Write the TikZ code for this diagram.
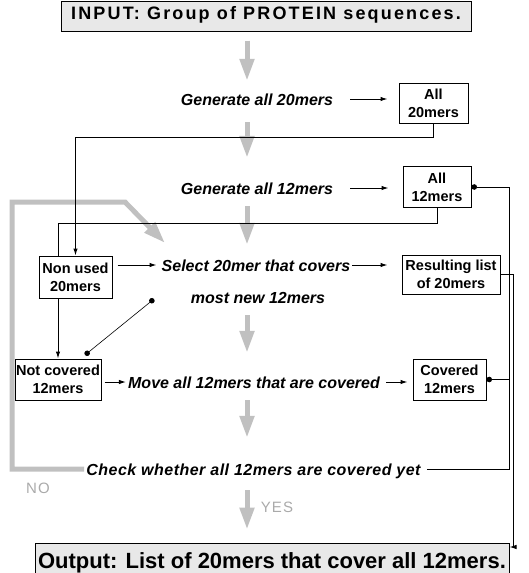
\documentclass[tikz,border=0pt]{standalone}
\usepackage{fontspec}
\setmainfont{Liberation Sans}
\usepackage{tikz}
\usetikzlibrary{arrows.meta}
\definecolor{flowgray}{RGB}{192,192,192}
\definecolor{titlegray}{RGB}{232,232,232}
\definecolor{notegray}{RGB}{170,170,170}

\begin{document}
\begin{tikzpicture}[x=1pt, y=-1pt,
		io/.style={draw, line width=1pt, fill=titlegray, inner sep=0pt, minimum height=30pt},
		store/.style={draw, line width=1pt, fill=white, inner sep=0pt, align=center, font=\fontsize{14.5}{18}\selectfont\bfseries},
		task/.style={inner sep=2pt, text height=12pt, text depth=0pt, font=\fontsize{16}{18}\selectfont\bfseries\itshape},
		link/.style={line width=1pt, -{Latex[length=7pt,width=4.5pt]}},
		feed/.style={line width=1pt, -{Circle[length=5.5pt]}},
		flow/.style={flowgray, line width=5pt, -{Triangle[length=22pt,width=14pt]}},
		answer/.style={notegray, font=\fontsize{15}{18}\selectfont\addfontfeatures{LetterSpace=8}}]
		\useasboundingbox (0,0) rectangle (528,573);
		\node[io, minimum width=410pt, text height=12pt, text depth=6pt, font=\fontsize{18}{20}\selectfont\bfseries\addfontfeatures{LetterSpace=12}] (in) at (266,16) {INPUT: Group of PROTEIN sequences.};
		\node[task] (g20) at (257,99) {Generate all 20mers};
		\node[store, minimum width=69pt, minimum height=40pt] (all20) at (433.5,103) {All\\20mers};
		\node[task] (g12) at (257,188) {Generate all 12mers};
		\node[store, minimum width=68pt, minimum height=41pt] (all12) at (437,187) {All\\12mers};
		\node[store, minimum width=73pt, minimum height=42pt] (nonused) at (75.5,277) {Non used\\20mers};
		\node[task] (sel) at (256,265) {Select 20mer that covers};
		\node[task] (sel2) at (258,297) {most new 12mers};
		\node[store, minimum width=98pt, minimum height=39pt] (result) at (451,274.5) {Resulting list\\of 20mers};
		\node[store, minimum width=86pt, minimum height=41pt] (notcov) at (58,379.5) {Not covered\\12mers};
		\node[task] (move) at (254,382) {Move all 12mers that are covered};
		\node[store, minimum width=73pt, minimum height=41pt] (covered) at (449.5,379.5) {Covered\\12mers};
		\node[task, font=\fontsize{16}{18}\selectfont\bfseries\itshape\addfontfeatures{LetterSpace=3}] (check) at (253.5,469) {Check whether all 12mers are covered yet};
		\node[io, minimum width=474pt, text height=20pt, text depth=0pt, font=\fontsize{22}{24}\selectfont\bfseries] (out) at (272,558) {Output: List of 20mers that cover all 12mers.};
		\node[answer] (no) at (38,488) {NO};
		\node[answer] (yes) at (277,507) {YES};

		\coordinate (axis) at (247,0);
		\coordinate (rail) at (509,0);
		\coordinate (outrail) at (513,0);
		\coordinate (noturn) at (12,202);
		\coordinate (nobend) at (125,202);
		\coordinate (noend) at (165,243);
		\coordinate (pick) at (154,299);
		\coordinate (keep) at (85,355);

		\foreach \a/\b/\s/\e in {in/g20/9/10, g20/g12/15/22, g12/sel/10/12, sel2/move/10/21, move/check/10/23, check/out/13/13}
			\draw[flow, shorten <=\s pt, shorten >=\e pt] (\a.south -| axis) -- (\b.north -| axis);
		\draw[flow] (check.west) -| (noturn) -- (nobend) -- (noend);

		\draw[link, shorten <=15pt, shorten >=11pt] (g20.east) -- (g20.east -| all20.west);
		\draw[link, shorten <=15pt, shorten >=14pt] (g12.east) -- (g12.east -| all12.west);
		\draw[link] (all20.south) -- ++(0,14) -| (nonused.north);
		\draw[line width=1pt] (all12.south) -- ++(0,15) -| (nonused.north -| notcov.north);
		\draw[link] (nonused.south -| notcov.north) -- (notcov.north);
		\draw[link, shorten <=5pt, shorten >=3pt] (nonused.east |- sel) -- (sel.west);
		\draw[link, shorten >=14pt] (sel.east) -- (sel.east -| result.west);
		\draw[link, shorten <=3pt] (notcov.east |- move) -- (move.west);
		\draw[link, shorten <=4pt, shorten >=5pt] (move.east) -- (move.east -| covered.west);
		\draw[link] (result.east) -- (result.east -| outrail) |- ([yshift=11pt]out.east);
		\draw[feed, shorten <=4pt] (check.east) -- (check.east -| rail) -- (all12.east -| rail) -- (all12.east);
		\draw[feed] (covered.east -| rail) -- (covered.east);
		\draw[line width=0.6pt, {Circle[length=5.5pt]}-{Circle[length=5.5pt]}] (pick) -- (keep);
	\end{tikzpicture}
\end{document}
